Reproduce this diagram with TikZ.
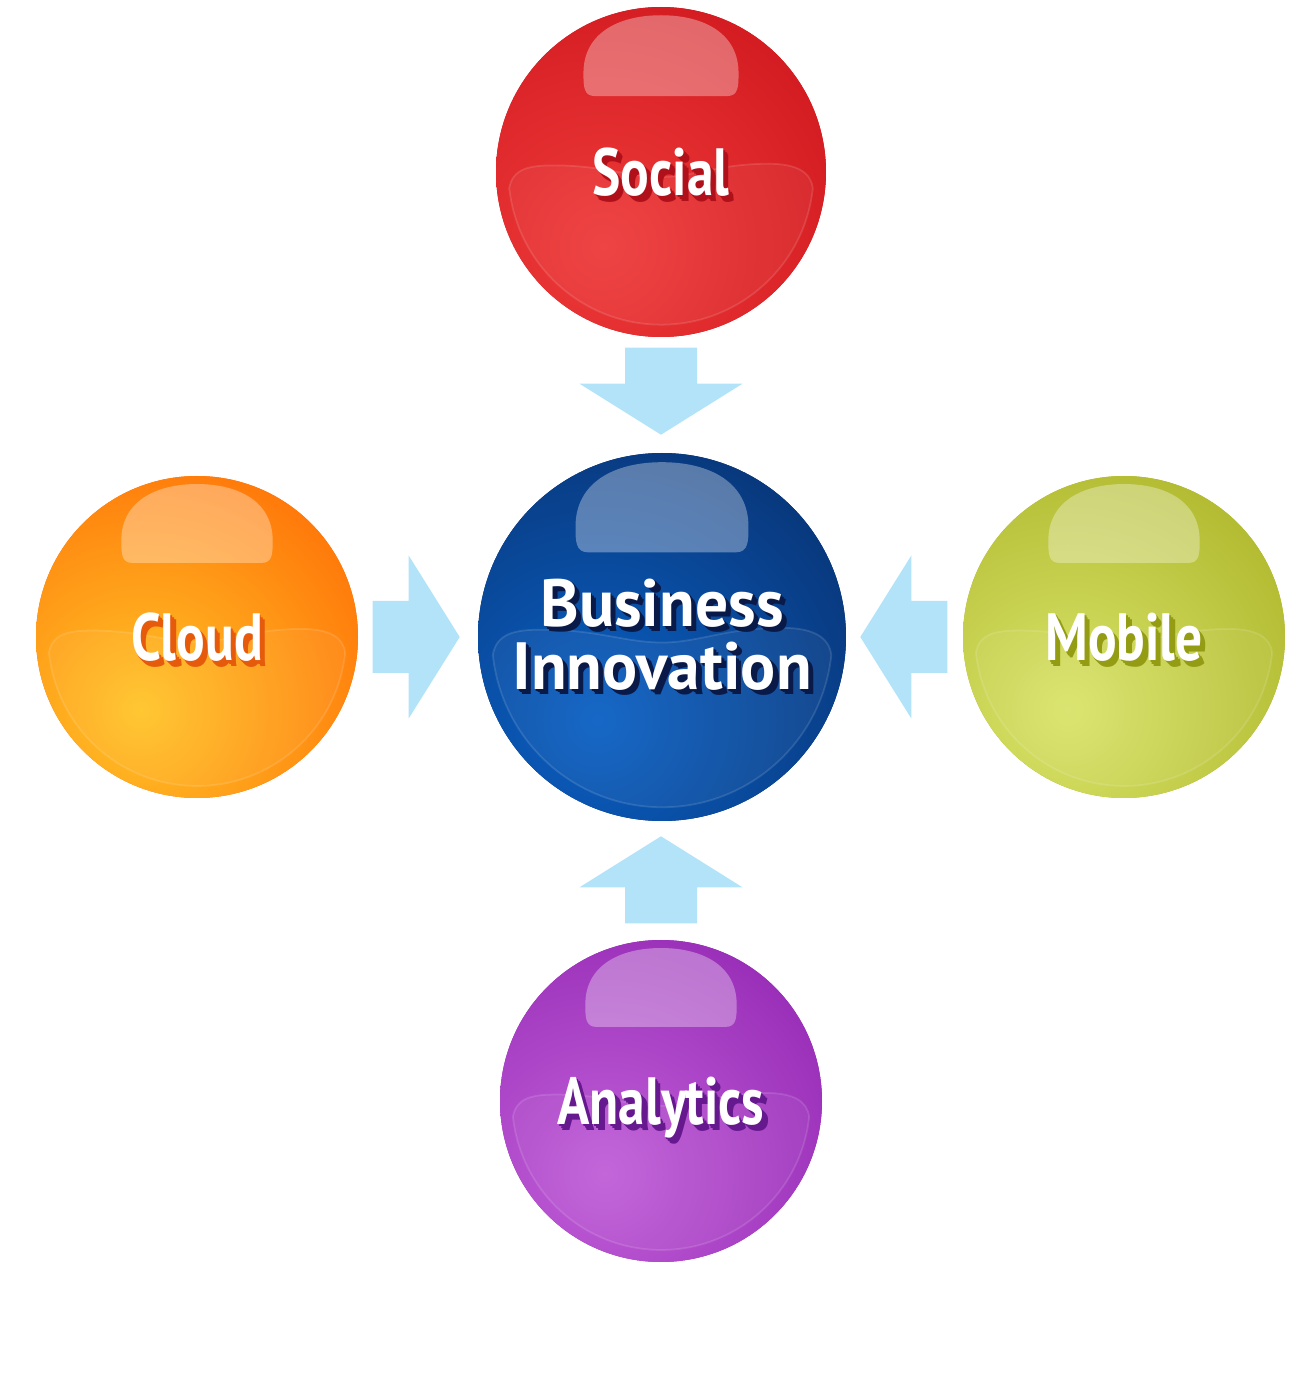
\documentclass[tikz,border=0pt]{standalone}
\usepackage{fontspec}
\usepackage{tikz}
\usetikzlibrary{calc}
\usetikzlibrary{positioning}
\newfontfamily\ballfont[FakeStretch=0.8]{PT Sans}
\newfontfamily\bizfont[FakeStretch=0.98]{PT Sans}

\definecolor{feedblue}{HTML}{B2E3F8}
\definecolor{socLight}{HTML}{EE3A3A}  \definecolor{socDark}{HTML}{CE161C}  \definecolor{socShade}{HTML}{B0101A}
\definecolor{bizLight}{HTML}{0A60C4}  \definecolor{bizDark}{HTML}{08306E}  \definecolor{bizShade}{HTML}{0A1A48}
\definecolor{cldLight}{HTML}{FFC428}  \definecolor{cldDark}{HTML}{FF6A04}  \definecolor{cldShade}{HTML}{E65A0C}
\definecolor{mobLight}{HTML}{D9E46A}  \definecolor{mobDark}{HTML}{ABB326}  \definecolor{mobShade}{HTML}{949C14}
\definecolor{anaLight}{HTML}{C05ED8}  \definecolor{anaDark}{HTML}{9226B2}  \definecolor{anaShade}{HTML}{66188E}

\tikzstyle{feed} = [fill=feedblue]
\tikzstyle{ball} = [circle, inner sep=0pt, text=white, font=\ballfont\bfseries\fontsize{19}{18}\selectfont]

% glossy sphere: centre, radius, light colour, dark colour
\newcommand{\sphere}[4]{%
  \begin{scope}[shift={(#1)}, scale=#2]
    \fill[#4] (0,0) circle (1);
    \begin{scope}
      \clip (0,0) circle (1);
      \shade[inner color=#3, outer color=#4] (-0.35,-0.45) circle (1.9);
    \end{scope}
    % lower band
    \fill[white, fill opacity=0.05, draw=white, draw opacity=0.12, line width=0.5pt]
      (-0.92,-0.10) .. controls (-0.90,0.02) and (-0.80,0.04) .. (-0.65,0.04)
      .. controls (-0.35,0.04) and (-0.20,-0.03) .. (0,-0.03)
      .. controls (0.20,-0.03) and (0.35,0.05) .. (0.65,0.05)
      .. controls (0.82,0.05) and (0.91,0.00) .. (0.92,-0.10)
      arc[start angle=-6.2, end angle=-173.8, radius=0.925] -- cycle;
    % top gloss
    \fill[white, opacity=0.33]
      (-0.40,0.46) -- (0.40,0.46) .. controls (0.47,0.46) and (0.47,0.52) .. (0.47,0.60)
      .. controls (0.47,0.84) and (0.26,0.95) .. (0,0.95)
      .. controls (-0.26,0.95) and (-0.47,0.84) .. (-0.47,0.60)
      .. controls (-0.47,0.52) and (-0.47,0.46) .. (-0.40,0.46) -- cycle;
  \end{scope}}

% white word with a stepped coloured shadow
\newcommand{\shtext}[2]{%
  \rlap{\kern1.5pt\raisebox{-1.5pt}{\color{#1}#2}}%
  \rlap{\kern1pt\raisebox{-1pt}{\color{#1}#2}}%
  \rlap{\kern0.5pt\raisebox{-0.5pt}{\color{#1}#2}}%
  #2}
\newcommand{\feedarrow}[2]{%
  \fill[feed, shift={(#1)}, rotate=#2] (0,-0.36) -- (0.36,-0.36) -- (0.36,-0.815)
    -- (0.87,0) -- (0.36,0.815) -- (0.36,0.36) -- (0,0.36) -- cycle;}

\begin{document}
\begin{tikzpicture}
  \useasboundingbox (0,0) rectangle (12.94,13.9);

  \coordinate (bizC) at (6.62,7.53);
  \coordinate (socC) at (6.61,12.18);
  \coordinate (cldC) at (1.97,7.53);
  \coordinate (mobC) at (11.24,7.53);
  \coordinate (anaC) at (6.61,2.89);

  \sphere{bizC}{1.84}{bizLight}{bizDark}
  \sphere{socC}{1.65}{socLight}{socDark}
  \sphere{cldC}{1.61}{cldLight}{cldDark}
  \sphere{mobC}{1.61}{mobLight}{mobDark}
  \sphere{anaC}{1.61}{anaLight}{anaDark}

  \node[ball, minimum size=3.68cm, align=center, font=\bizfont\bfseries\fontsize{19}{18}\selectfont] (biz) at (bizC)
    {\shtext{bizShade}{Business}\\\shtext{bizShade}{Innovation}};
  \node[ball, minimum size=3.3cm, text depth=0pt] (social) at (socC) {\shtext{socShade}{Social}};
  \node[ball, minimum size=3.22cm, text depth=0pt] (cloud) at (cldC) {\shtext{cldShade}{Cloud}};
  \node[ball, minimum size=3.22cm, text depth=0pt] (mobile) at (mobC) {\shtext{mobShade}{Mobile}};
  \node[ball, minimum size=3.22cm, text depth=0pt] (analytics) at (anaC) {\shtext{anaShade}{Analytics}};

  \coordinate (socFeed) at ($(social.south)+(0,-0.1)$);
  \coordinate (cldFeed) at ($(cloud.east)+(0.14,0)$);
  \coordinate (mobFeed) at ($(mobile.west)+(-0.15,0)$);
  \coordinate (anaFeed) at ($(analytics.north)+(0,0.16)$);

  \feedarrow{socFeed}{-90}
  \feedarrow{cldFeed}{0}
  \feedarrow{mobFeed}{180}
  \feedarrow{anaFeed}{90}
\end{tikzpicture}
\end{document}
